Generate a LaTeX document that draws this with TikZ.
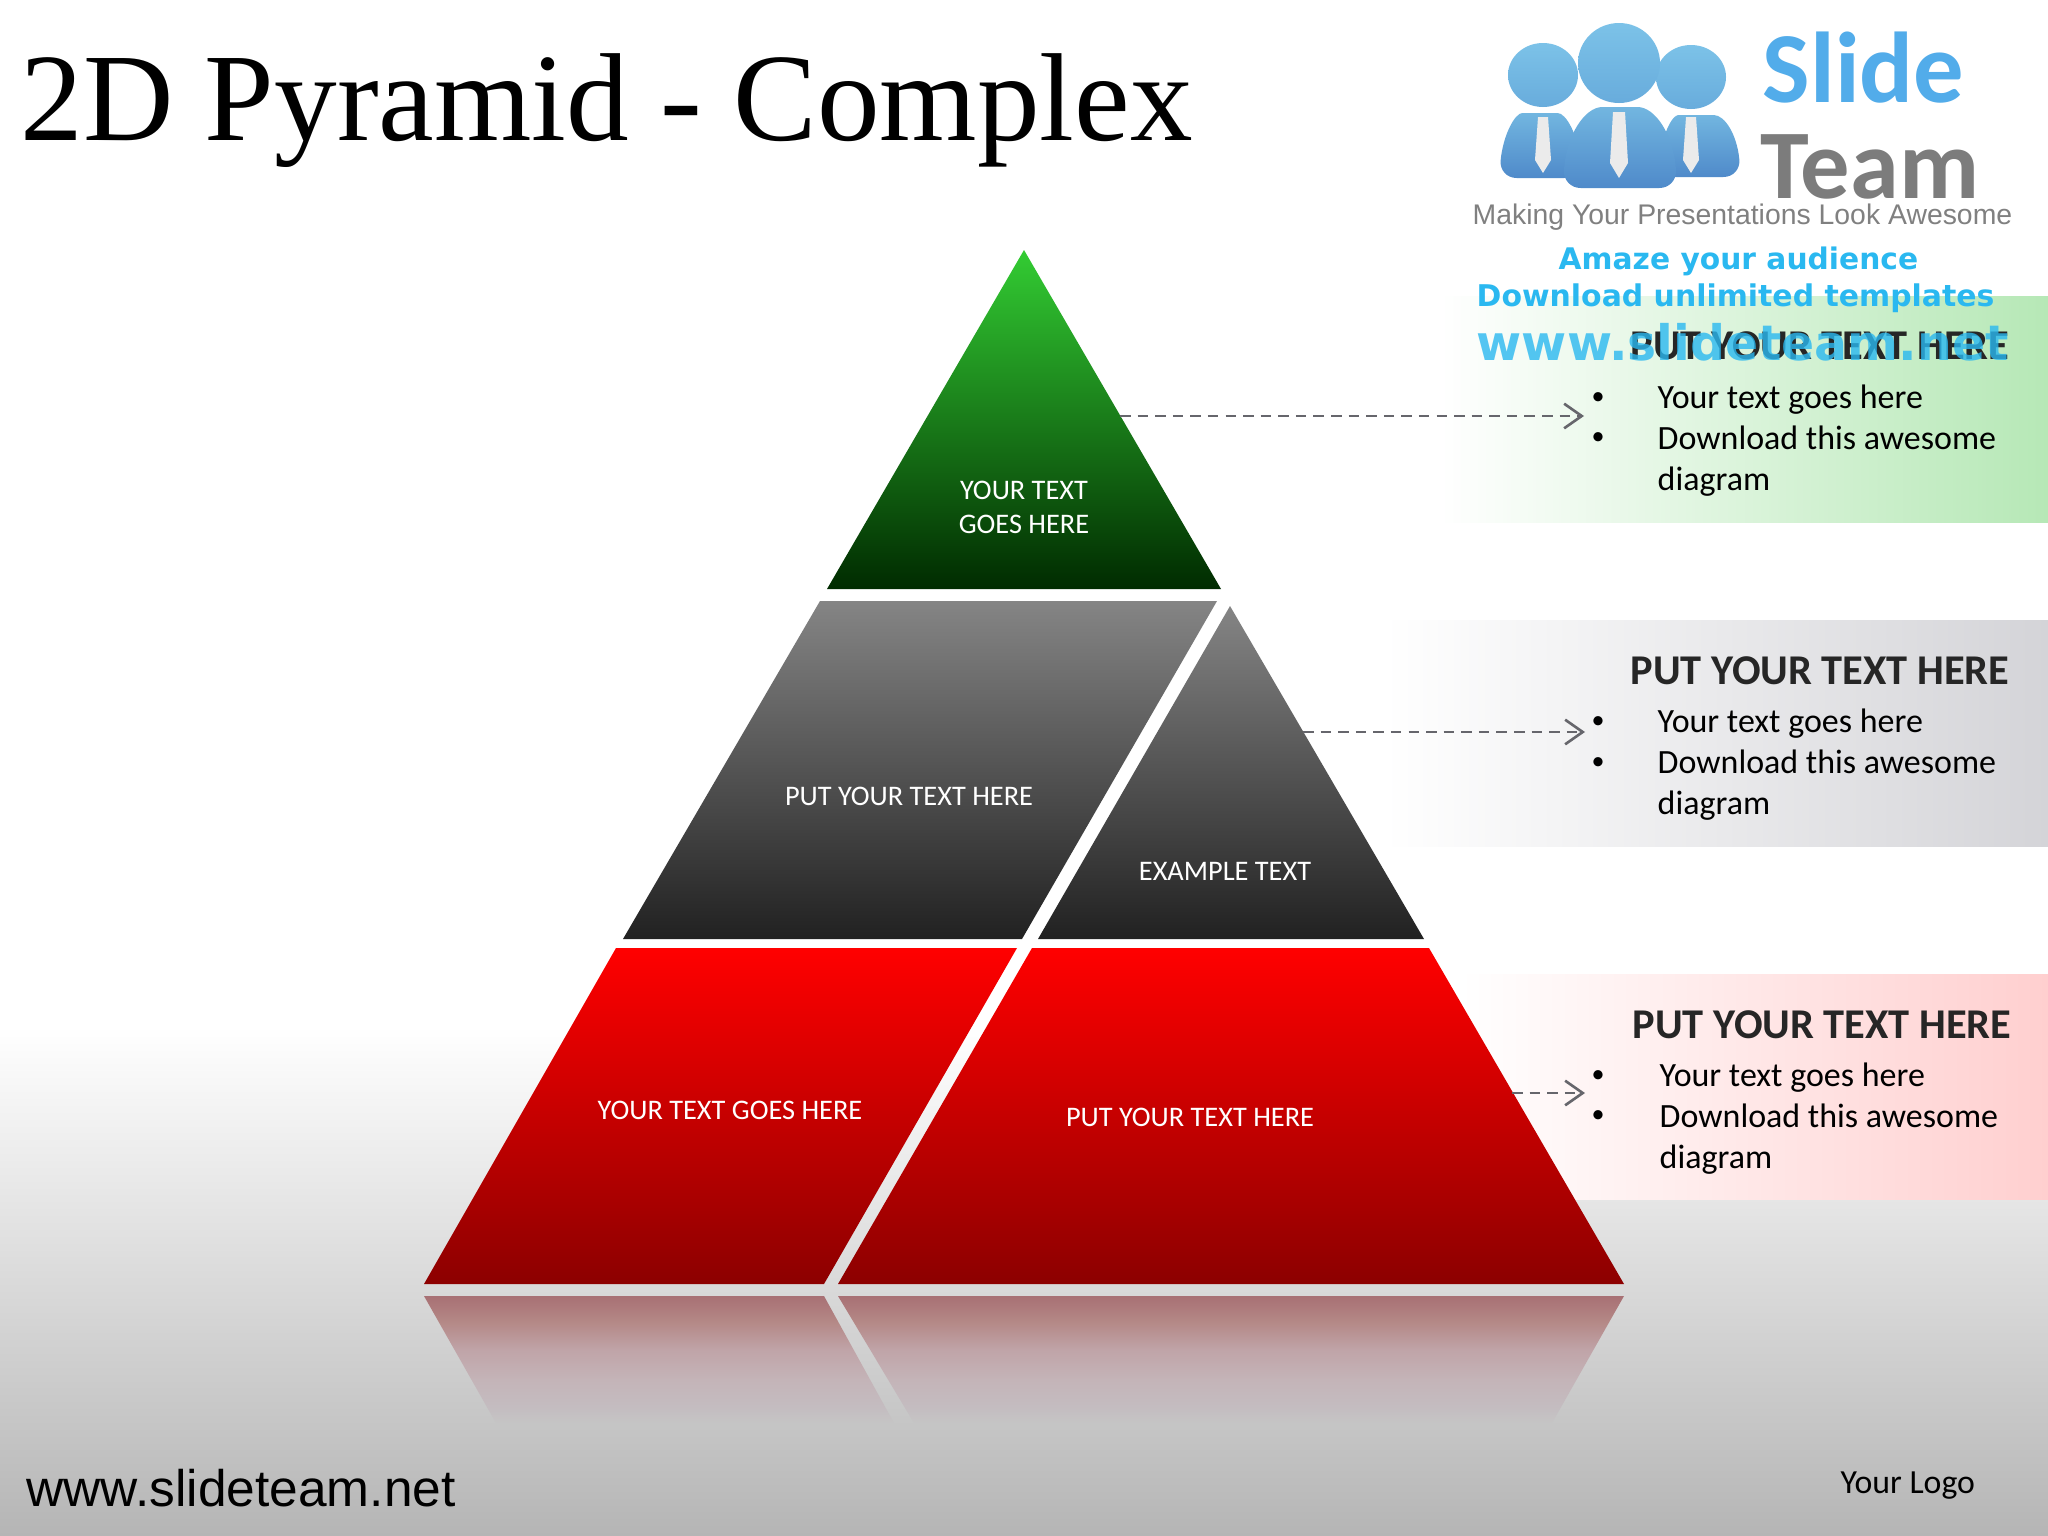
\documentclass[tikz,border=0pt]{standalone}
\usepackage{fontspec}
\setmainfont{Liberation Serif}
\newfontfamily\calfont{Carlito}
\newfontfamily\arialfont{Liberation Sans}
\newfontfamily\verdfont{DejaVu Sans}
\definecolor{bggrey}{HTML}{B5B5B5}
\definecolor{arrowgrey}{HTML}{66666C}
\definecolor{cyantext}{HTML}{2AB8F0}
\definecolor{slideblue}{HTML}{52ACEA}
\definecolor{teamgrey}{HTML}{7C7C7C}
\definecolor{panelgreen}{HTML}{B6E8B6}
\definecolor{panelgrey}{HTML}{D4D4D8}
\definecolor{panelred}{HTML}{FFCFCF}
\definecolor{greentop}{HTML}{33CC33}
\definecolor{greenbot}{HTML}{002B00}
\definecolor{refA}{HTML}{A87074}
\definecolor{refB}{HTML}{B48886}
\definecolor{refC}{HTML}{C0A4A8}
\definecolor{refD}{HTML}{C4B4B8}
\definecolor{refE}{HTML}{C4BCC0}
\definecolor{refF}{HTML}{C5C5C5}
\definecolor{headtop}{HTML}{7CC2E8}
\definecolor{headbot}{HTML}{68ACDC}
\definecolor{bodytop}{HTML}{72B6E0}
\definecolor{bodybot}{HTML}{4F8ACA}
\pgfdeclareverticalshading{bgfade}{100bp}{color(0bp)=(bggrey); color(25bp)=(bggrey); color(41.6bp)=(white); color(100bp)=(white)}
\pgfdeclareverticalshading{reflectfade}{100bp}{color(0bp)=(refF); color(25bp)=(refF); color(31.5bp)=(refE); color(42bp)=(refD); color(53.75bp)=(refC); color(65bp)=(refB); color(75bp)=(refA); color(100bp)=(refA)}
\tikzset{
  headtext/.style={anchor=base west,inner sep=0pt,text=black!85,font=\calfont\bfseries\fontsize{12.06}{14}\selectfont},
  bodytext/.style={anchor=base west,inner sep=0pt,text=black,font=\calfont\fontsize{9.66}{12}\selectfont},
  bullet/.style={inner sep=0pt,text=black,font=\calfont\fontsize{7.4}{9}\selectfont},
  pyrtext/.style={inner sep=0pt,text=white,font=\calfont\fontsize{8.06}{10}\selectfont},
  logotext/.style={inner sep=0pt,anchor=base west},
  dasharrow/.style={arrowgrey,densely dashed,line width=0.75pt,-{Straight Barb[length=5pt,width=7pt]}},
  greenpart/.style={top color=greentop,bottom color=greenbot},
  darkpart/.style={top color=black!48,bottom color=black!87},
  redpart/.style={top color=red,middle color=red!87!black,bottom color=red!55!black},
  headpart/.style={top color=headtop,bottom color=headbot},
  bodypart/.style={top color=bodytop,bottom color=bodybot,rounded corners=5pt},
  tiepart/.style={fill=black!8},
}
\usetikzlibrary{arrows.meta}
\begin{document}
\begin{tikzpicture}[x=0.01cm,y=-0.01cm]
\useasboundingbox (0,0) rectangle (2048,1536);
\shade[shading=bgfade] (0,0) rectangle (2048,1536);

\shade[left color=white,right color=panelgreen] (1440,296) rectangle (2048,522);
\shade[left color=white,right color=panelgrey] (1384,620) rectangle (2048,846);
\shade[left color=white,right color=panelred] (1460,974) rectangle (2048,1199);

\shade[greenpart] (1024,250) -- (1221,589) -- (827,589) -- cycle;
\shade[darkpart] (820,601) -- (1217,601) -- (1022,939) -- (623,939) -- cycle;
\shade[darkpart] (1230,606) -- (1424,939) -- (1038,939) -- cycle;
\shade[redpart] (616,948) -- (1017,948) -- (824,1284) -- (424,1284) -- cycle;
\shade[redpart] (1032,948) -- (1429,948) -- (1624,1284) -- (838,1284) -- cycle;
\shade[shading=reflectfade] (424,1296) -- (824,1296) -- (894,1423) -- (496,1423) -- cycle;
\shade[shading=reflectfade] (838,1296) -- (1624,1296) -- (1552,1423) -- (914,1423) -- cycle;

\coordinate (greenstart) at (1120,416);
\coordinate (greenend) at (1584,416);
\coordinate (darkstart) at (1303,732);
\coordinate (darkend) at (1585,732);
\coordinate (redstart) at (1512,1093);
\coordinate (redend) at (1585,1093);
\draw[dasharrow] (greenstart) -- (greenend);
\draw[dasharrow] (darkstart) -- (darkend);
\draw[dasharrow] (redstart) -- (redend);

\node[pyrtext] (greenone) at (1024,490) {YOUR TEXT};
\node[pyrtext] (greentwo) at (1024,524) {GOES HERE};
\node[pyrtext] (darkleft) at (909,796) {PUT YOUR TEXT HERE};
\node[pyrtext] (darkright) at (1225,871) {EXAMPLE TEXT};
\node[pyrtext] (redleft) at (730,1110) {YOUR TEXT GOES HERE};
\node[pyrtext] (redright) at (1190,1117) {PUT YOUR TEXT HERE};

\node[headtext] (headone) at (1630,359) {PUT YOUR TEXT HERE};
\node[headtext] (headtwo) at (1630,684) {PUT YOUR TEXT HERE};
\node[headtext] (headthree) at (1632,1038) {PUT YOUR TEXT HERE};

\node[bullet] (bulone) at (1598,399) {•};
\node[bullet] (bultwo) at (1598,439) {•};
\node[bodytext] (oneA) at (1657,408) {Your text goes here};
\node[bodytext] (oneB) at (1657,449) {Download this awesome};
\node[bodytext] (oneC) at (1657,490) {diagram};
\node[bullet] (bulthree) at (1598,723) {•};
\node[bullet] (bulfour) at (1598,764) {•};
\node[bodytext] (twoA) at (1657,732) {Your text goes here};
\node[bodytext] (twoB) at (1657,773) {Download this awesome};
\node[bodytext] (twoC) at (1657,814) {diagram};
\node[bullet] (bulfive) at (1598,1077) {•};
\node[bullet] (bulsix) at (1598,1117) {•};
\node[bodytext] (threeA) at (1659,1086) {Your text goes here};
\node[bodytext] (threeB) at (1659,1127) {Download this awesome};
\node[bodytext] (threeC) at (1659,1168) {diagram};

\node[logotext,font=\fontsize{35.6}{40}\selectfont] (title) at (20,140) {2D Pyramid - Complex};
\node[logotext,font=\arialfont\fontsize{14.63}{17}\selectfont] (website) at (26,1506) {www.slideteam.net};
\node[logotext,font=\calfont\fontsize{9.6}{12}\selectfont] (yourlogo) at (1840,1493) {Your Logo};

\shade[bodypart] (1499,178) .. controls (1503,135) and (1515,113) .. (1540,113) .. controls (1566,113) and (1578,135) .. (1582,178) -- cycle;
\shade[bodypart] (1741,177) .. controls (1737,135) and (1725,115) .. (1696,115) .. controls (1672,115) and (1662,135) .. (1658,177) -- cycle;
\shade[headpart] (1543,75) ellipse (35 and 32);
\shade[headpart] (1691,77) ellipse (35 and 32);
\shade[headpart] (1619,63) ellipse (41 and 40);
\shade[bodypart] (1563,188) .. controls (1566,135) and (1585,107) .. (1620,107) .. controls (1655,107) and (1674,135) .. (1677,188) -- cycle;
\filldraw[tiepart,draw=none] (1538,117) -- (1548,117) -- (1551,160) -- (1543,173) -- (1535,160) -- cycle;
\filldraw[tiepart,draw=none] (1613,112) -- (1625,112) -- (1628,163) -- (1619,178) -- (1610,163) -- cycle;
\filldraw[tiepart,draw=none] (1686,117) -- (1696,117) -- (1699,160) -- (1691,173) -- (1683,160) -- cycle;

\node[logotext,text=slideblue,font=\calfont\bfseries\fontsize{28.6}{34}\selectfont] (slideword) at (1762,102) {Slide};
\node[logotext,text=teamgrey,font=\calfont\bfseries\fontsize{28}{34}\selectfont] (teamword) at (1760,198) {Team};
\node[logotext,text=black!50,font=\arialfont\fontsize{8.07}{10}\selectfont] (tagline) at (1472,224) {Making Your Presentations Look Awesome};
\node[logotext,text=cyantext,font=\verdfont\bfseries\fontsize{8.45}{10}\selectfont] (amaze) at (1558,269) {Amaze your audience};
\node[logotext,text=cyantext,font=\verdfont\bfseries\fontsize{8.5}{10}\selectfont] (download) at (1476,306) {Download unlimited templates};
\node[logotext,text=cyantext,text opacity=0.8,font=\verdfont\bfseries\fontsize{13.9}{16}\selectfont] (logourl) at (1476,360) {www.slideteam.net};
\end{tikzpicture}
\end{document}
